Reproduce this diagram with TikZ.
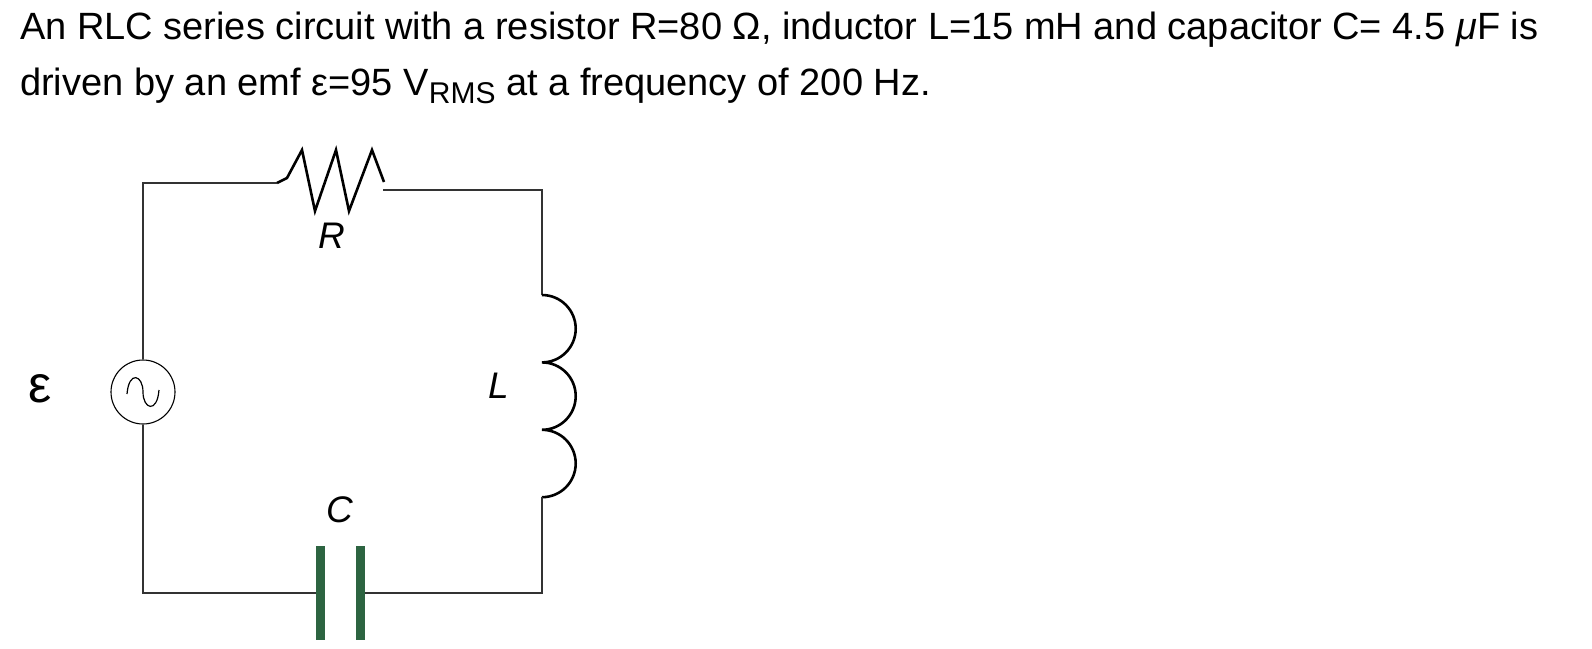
\documentclass[tikz,border=0pt]{standalone}
\usepackage{fontspec}
\setmainfont{Liberation Sans}
\begin{document}
\begin{tikzpicture}[x=1pt,y=-1pt,
  wire/.style={line width=1.3pt,black!80},
  lbl/.style={font=\fontsize{37}{40}\selectfont\itshape},
  txt/.style={anchor=west,font=\fontsize{38}{40}\selectfont,inner sep=0}]
\useasboundingbox (0,0) rectangle (1592,648);
\node[txt] (t1) at (20,30) {An RLC series circuit with a resistor R=80 Ω, inductor L=15 mH and capacitor C= 4.5 {\itshape μ}F is};
\node[txt] (t2) at (20,86) {driven by an emf ε=95 V\raisebox{-8pt}{\fontsize{30}{32}\selectfont RMS} at a frequency of 200 Hz.};
% corners
\coordinate (tl) at (143,183);
\coordinate (r1) at (277,183);
\coordinate (r2) at (383,190);
\coordinate (tr) at (542,190);
\coordinate (l1) at (542,295);
\coordinate (l2) at (542,497);
\coordinate (br) at (542,593);
\coordinate (c2) at (360,593);
\coordinate (c1) at (320,593);
\coordinate (bl) at (143,593);
\node[draw,circle,line width=1.1pt,minimum size=64pt,inner sep=0] (src) at (143,392) {};
\draw[line width=1.2pt] (127,394) .. controls (129,370) and (143,375) .. (143,392) .. controls (143,409) and (157,414) .. (159,390);
\draw[wire] (src.north) -- (tl) -- (r1);
\draw[line width=2.6pt,line join=miter] (r1) -- (287,178) -- (302,150) -- (315,211) -- (336,150) -- (349,211) -- (372,150) -- (384,182);
\draw[wire] (r2) -- (tr) -- (l1);
\draw[line width=2.6pt] (l1) arc[start angle=-90,end angle=90,radius=33.7] arc[start angle=-90,end angle=90,radius=33.7] arc[start angle=-90,end angle=90,radius=33.7];
\draw[wire] (l2) -- (br) -- (c2);
\draw[wire] (c1) -- (bl) -- (src.south);
\draw[line width=9pt,color={rgb,255:red,45;green,100;blue,65}] (320,546) -- (320,640) (360,546) -- (360,640);
\node[lbl] (R) at (332,236) {R};
\node[lbl] (L) at (499,386) {L};
\node[lbl] (C) at (340,510) {C};
\node[font=\fontsize{52}{52}\selectfont] (E) at (40,389) {ε};
\end{tikzpicture}
\end{document}
